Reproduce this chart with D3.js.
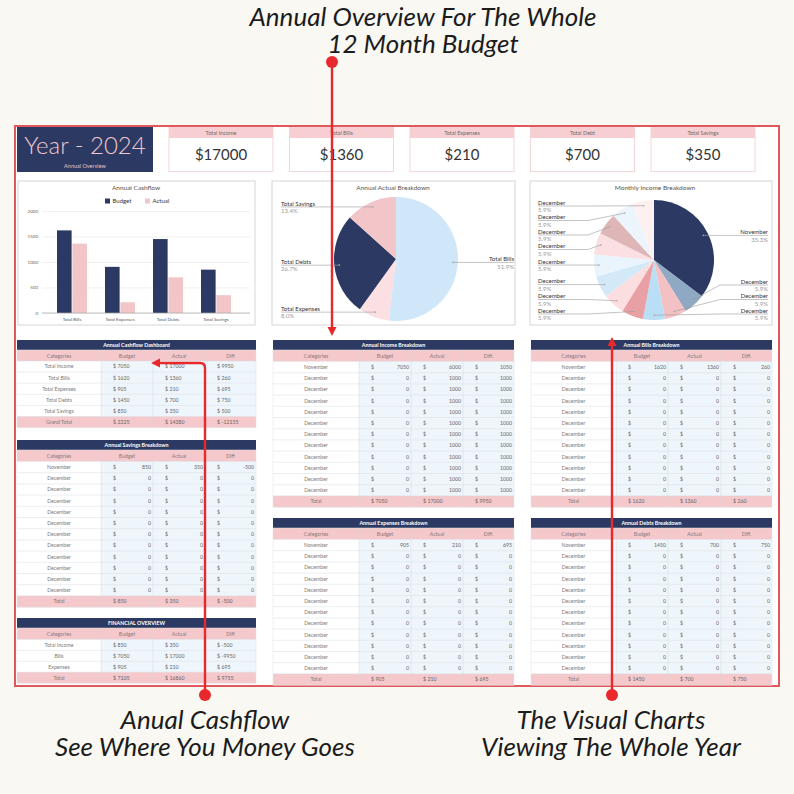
<!DOCTYPE html>
<html lang="en">
<head>
<meta charset="UTF-8">
<title>Year 2024 - Annual Overview</title>
<script src="https://d3js.org/d3.v7.min.js"></script>
<style>
    body { margin: 0; background: #f9f8f3; }
    svg text { font-family: Lato, "Noto Sans", sans-serif; }
    .note { font-style: italic; font-size: 26px; fill: #1c1c1c; }
</style>
</head>
<body>
<svg id="chart" width="794" height="794"></svg>
<script>
// ---- data ----
const kpiLabels = ["Total Income", "Total Bills", "Total Expenses", "Total Debt", "Total Savings"];
const kpiValues = [17000, 1360, 210, 700, 350];

const cashCategories = ["Total Bills", "Total Expenses", "Total Debts", "Total Savings"];
const cashBudget = [1620, 905, 1450, 850];
const cashActual = [1360, 210, 700, 350];
const yTicks = [0, 500, 1000, 1500, 2000];

const monthIncomeLabels = ["November", "December", "December", "December", "December", "December",
    "December", "December", "December", "December", "December", "December"];
const monthIncomeActual = [6000, 1000, 1000, 1000, 1000, 1000, 1000, 1000, 1000, 1000, 1000, 1000];

const months = ["November", "December", "December", "December", "December", "December",
    "December", "December", "December", "December", "December", "December"];

const dashCategories = ["Total Income", "Total Bills", "Total Expenses", "Total Debts", "Total Savings"];
const dashBudget = [7050, 1620, 905, 1450, 850];
const dashActual = [17000, 1360, 210, 700, 350];
const dashDiff = [9950, 260, 695, 750, 500];
const dashTotal = [2225, 14380, -12155];

const savingsBudget = [850, 0, 0, 0, 0, 0, 0, 0, 0, 0, 0, 0];
const savingsActual = [350, 0, 0, 0, 0, 0, 0, 0, 0, 0, 0, 0];
const savingsDiff = [-500, 0, 0, 0, 0, 0, 0, 0, 0, 0, 0, 0];
const savingsTotal = [850, 350, -500];

const finCategories = ["Total Income", "Bills", "Expenses"];
const finBudget = [850, 7050, 905];
const finActual = [350, 17000, 210];
const finDiff = [-500, -9950, 695];
const finTotal = [7105, 16860, 9755];

const incomeBudget = [7050, 0, 0, 0, 0, 0, 0, 0, 0, 0, 0, 0];
const incomeActual = [6000, 1000, 1000, 1000, 1000, 1000, 1000, 1000, 1000, 1000, 1000, 1000];
const incomeDiff = [1050, 1000, 1000, 1000, 1000, 1000, 1000, 1000, 1000, 1000, 1000, 1000];
const incomeTotal = [7050, 17000, 9950];

const expensesBudget = [905, 0, 0, 0, 0, 0, 0, 0, 0, 0, 0, 0];
const expensesActual = [210, 0, 0, 0, 0, 0, 0, 0, 0, 0, 0, 0];
const expensesDiff = [695, 0, 0, 0, 0, 0, 0, 0, 0, 0, 0, 0];
const expensesTotal = [905, 210, 695];

const billsBudget = [1620, 0, 0, 0, 0, 0, 0, 0, 0, 0, 0, 0];
const billsActual = [1360, 0, 0, 0, 0, 0, 0, 0, 0, 0, 0, 0];
const billsDiff = [260, 0, 0, 0, 0, 0, 0, 0, 0, 0, 0, 0];
const billsTotal = [1620, 1360, 260];

const debtsBudget = [1450, 0, 0, 0, 0, 0, 0, 0, 0, 0, 0, 0];
const debtsActual = [700, 0, 0, 0, 0, 0, 0, 0, 0, 0, 0, 0];
const debtsDiff = [750, 0, 0, 0, 0, 0, 0, 0, 0, 0, 0, 0];
const debtsTotal = [1450, 700, 750];

// ---- colours ----
const navy = "#2c3a63", pink = "#f5c8cb", cellBlue = "#eef6fc", red = "#e8282c";
const actualColors = ["#cfe7f8", "#fcdfe2", "#2c3a63", "#f2c6c8"];
const incomeColors = ["#2c3a63", "#8fa8c3", "#f3c0c3", "#b9def6", "#e8a0a4", "#fcdde0",
    "#d4e9f8", "#e9f4fc", "#fbdfe2", "#deb6b7", "#ecf5fb", "#fdf0f1"];

const svg = d3.select("#chart");

// outer frame
svg.append("rect").attr("x", 15).attr("y", 126).attr("width", 764).attr("height", 560)
    .attr("fill", "#fff").attr("stroke", "#e0575c").attr("stroke-width", 2);

// year box
svg.append("rect").attr("x", 17).attr("y", 127).attr("width", 136).attr("height", 45).attr("fill", navy);
svg.append("text").attr("x", 85).attr("y", 154).attr("text-anchor", "middle")
    .attr("font-size", 24).attr("font-weight", 300).attr("fill", "#f2c7cb").text("Year - 2024");
svg.append("text").attr("x", 85).attr("y", 168).attr("text-anchor", "middle")
    .attr("font-size", 5.5).attr("fill", "#e6c2c8").text("Annual Overview");

// kpi cards
const cardX = d3.scaleBand().domain(kpiLabels).range([169, 755]).paddingInner(0.137).paddingOuter(0);
kpiLabels.forEach((k, i) => {
    const x = cardX(k), w = cardX.bandwidth();
    svg.append("rect").attr("x", x).attr("y", 127.5).attr("width", w).attr("height", 44)
        .attr("fill", "#fff").attr("stroke", "#f4d5d8");
    svg.append("rect").attr("x", x).attr("y", 127.5).attr("width", w).attr("height", 10.5).attr("fill", "#f7cfd2");
    svg.append("text").attr("x", x + w / 2).attr("y", 134.5).attr("text-anchor", "middle")
        .attr("font-size", 5.5).attr("fill", "#6b6b6b").text(k);
    svg.append("text").attr("x", x + w / 2).attr("y", 160).attr("text-anchor", "middle")
        .attr("font-size", 15).attr("fill", "#333").text("$" + kpiValues[i]);
});

// chart panels
[[18, 237], [272, 243], [530, 242]].forEach(p => {
    svg.append("rect").attr("x", p[0]).attr("y", 181).attr("width", p[1]).attr("height", 144)
        .attr("fill", "#fff").attr("stroke", "#d6d6d6");
});

// ---- bar chart ----
const bar = svg.append("g");
bar.append("text").attr("x", 136).attr("y", 190).attr("text-anchor", "middle")
    .attr("font-size", 6.5).attr("fill", "#555").text("Annual Cashflow");
[["Budget", navy, 105], ["Actual", "#f2c6c8", 145]].forEach(l => {
    bar.append("rect").attr("x", l[2]).attr("y", 198.5).attr("width", 5).attr("height", 5).attr("fill", l[1]);
    bar.append("text").attr("x", l[2] + 7.5).attr("y", 203.3).attr("font-size", 6).attr("fill", "#333").text(l[0]);
});

const x0 = d3.scaleBand().domain(cashCategories).range([48, 240]).paddingInner(0.375).paddingOuter(0.1875);
const x1 = d3.scaleBand().domain(["Budget", "Actual"]).range([0, x0.bandwidth()]).paddingInner(0.05);
const y = d3.scaleLinear().domain([0, 2000]).range([313, 211]);

const yAxis = bar.append("g").attr("transform", "translate(42,0)")
    .call(d3.axisLeft(y).tickValues(yTicks).tickFormat(d3.format("d")).tickSize(-208).tickPadding(4));
yAxis.select(".domain").remove();
yAxis.selectAll(".tick line").attr("stroke", "#e6e6e6").attr("stroke-width", 0.6);
yAxis.selectAll(".tick text").attr("font-size", 4.5).attr("fill", "#666");

const groups = bar.selectAll("g.cat")
    .data(cashCategories.map((c, i) => ({ c, vals: [["Budget", cashBudget[i]], ["Actual", cashActual[i]]] })))
    .join("g").attr("class", "cat").attr("transform", d => `translate(${x0(d.c)},0)`);
groups.selectAll("rect").data(d => d.vals).join("rect")
    .attr("x", d => x1(d[0])).attr("width", x1.bandwidth())
    .attr("y", d => y(d[1])).attr("height", d => y(0) - y(d[1]))
    .attr("fill", d => d[0] === "Budget" ? navy : "#f2c6c8");

bar.append("line").attr("x1", 42).attr("x2", 250).attr("y1", y(0)).attr("y2", y(0))
    .attr("stroke", "#aaa").attr("stroke-width", 0.7);
const xAxis = bar.append("g").attr("transform", `translate(0,${y(0)})`)
    .call(d3.axisBottom(x0).tickSize(0).tickPadding(4.5));
xAxis.select(".domain").remove();
xAxis.selectAll("text").attr("font-size", 4.5).attr("fill", "#555");

// ---- pies ----
function layoutLabels(items, top, bottom, gap) {
    items.sort((a, b) => a.py - b.py);
    let prev = -Infinity;
    items.forEach(d => { d.ly = Math.max(d.py, top, prev + gap); prev = d.ly; });
    let next = Infinity;
    for (let i = items.length - 1; i >= 0; i--) {
        items[i].ly = Math.min(items[i].ly, bottom, next - gap);
        next = items[i].ly;
    }
}

function drawPie(opt) {
    const g = svg.append("g");
    g.append("text").attr("x", opt.titleX).attr("y", 190).attr("text-anchor", "middle")
        .attr("font-size", 6.5).attr("fill", "#555").text(opt.title);
    const total = d3.sum(opt.values);
    const arcs = d3.pie().sort(null).value(d => d)(opt.values);
    const arc = d3.arc().innerRadius(0).outerRadius(opt.r);
    g.append("g").attr("transform", `translate(${opt.cx},${opt.cy})`)
        .selectAll("path").data(arcs).join("path")
        .attr("d", arc).attr("fill", (d, i) => opt.colors[i]);

    const items = arcs.map((a, i) => {
        const m = (a.startAngle + a.endAngle) / 2;
        return {
            name: opt.labels[i],
            pct: (opt.values[i] / total * 100).toFixed(1) + "%",
            px: opt.cx + Math.sin(m) * opt.r * 0.92,
            py: opt.cy - Math.cos(m) * opt.r * 0.92,
            right: m <= Math.PI + 1e-6
        };
    });
    const left = items.filter(d => !d.right), right = items.filter(d => d.right);
    layoutLabels(left, 206, 314, 14.5);
    layoutLabels(right, 206, 314, 14.5);
    items.forEach(d => {
        const lx = d.right ? opt.rightX : opt.leftX;
        const knee = d.right ? opt.cx + opt.r + 6 : opt.cx - opt.r - 6;
        g.append("polyline")
            .attr("points", [[lx, d.ly], [knee, d.ly], [d.px, d.py]].map(p => p.join(",")).join(" "))
            .attr("fill", "none").attr("stroke", "#9a9a9a").attr("stroke-width", 0.6);
        g.append("circle").attr("cx", d.px).attr("cy", d.py).attr("r", 0.8).attr("fill", "#aaa");
        const anchor = d.right ? "end" : "start";
        g.append("text").attr("x", lx).attr("y", d.ly - 1.2).attr("text-anchor", anchor)
            .attr("font-size", 6).attr("fill", "#333").text(d.name);
        g.append("text").attr("x", lx).attr("y", d.ly + 6.3).attr("text-anchor", anchor)
            .attr("font-size", 6).attr("fill", "#9a9a9a").text(d.pct);
    });
}

drawPie({ title: "Annual Actual Breakdown", titleX: 393, cx: 396, cy: 259, r: 62,
    values: cashActual, labels: cashCategories, colors: actualColors, leftX: 281, rightX: 514 });
drawPie({ title: "Monthly Income Breakdown", titleX: 655, cx: 654, cy: 260, r: 60,
    values: monthIncomeActual, labels: monthIncomeLabels, colors: incomeColors, leftX: 538, rightX: 768 });

// ---- tables ----
function drawTable(x0, y0, colW, title, rows, total, opt) {
    const g = svg.append("g");
    const W = d3.sum(colW);
    const xs = [x0];
    colW.forEach((w, i) => xs.push(xs[i] + w));
    const titleH = 10, headH = opt.headH, rowH = opt.rowH;
    g.append("rect").attr("x", x0).attr("y", y0).attr("width", W).attr("height", titleH).attr("fill", navy);
    g.append("text").attr("x", x0 + W / 2).attr("y", y0 + 7).attr("text-anchor", "middle")
        .attr("fill", "#fff").attr("font-size", 5.3).attr("font-weight", 700).text(title);
    const hy = y0 + titleH;
    g.append("rect").attr("x", x0).attr("y", hy).attr("width", W).attr("height", headH).attr("fill", pink);
    ["Categories", "Budget", "Actual", opt.diffLabel].forEach((h, i) => {
        g.append("text").attr("x", xs[i] + colW[i] / 2).attr("y", hy + headH / 2 + 2)
            .attr("text-anchor", "middle").attr("font-size", 5.2).attr("fill", "#8a7a7c").text(h);
    });
    const ry = hy + headH;
    const all = rows.concat([total]);
    all.forEach((r, j) => {
        const yy = ry + j * rowH, isTotal = j === rows.length;
        g.append("rect").attr("x", x0).attr("y", yy).attr("width", colW[0]).attr("height", rowH)
            .attr("fill", isTotal ? pink : "#fff");
        g.append("rect").attr("x", xs[1]).attr("y", yy).attr("width", W - colW[0]).attr("height", rowH)
            .attr("fill", isTotal ? pink : cellBlue);
        const ty = yy + rowH / 2 + 1.9;
        g.append("text").attr("x", x0 + colW[0] / 2).attr("y", ty).attr("text-anchor", "middle")
            .attr("font-size", 5.2).attr("fill", "#7a7a7a").text(r[0]);
        for (let c = 1; c <= 3; c++) {
            const split = opt.split && !isTotal;
            g.append("text").attr("x", xs[c] + 12).attr("y", ty)
                .attr("font-size", 5.2).attr("fill", "#666").text("$");
            g.append("text").attr("x", split ? xs[c + 1] - 2 : xs[c] + 16.5).attr("y", ty)
                .attr("text-anchor", split ? "end" : "start")
                .attr("font-size", 5.2).attr("fill", "#666").text(r[c]);
        }
        g.append("line").attr("x1", x0).attr("x2", x0 + W).attr("y1", yy).attr("y2", yy)
            .attr("stroke", "#d9dde2").attr("stroke-width", 0.5);
    });
    const yEnd = ry + all.length * rowH;
    g.append("line").attr("x1", x0).attr("x2", x0 + W).attr("y1", yEnd).attr("y2", yEnd)
        .attr("stroke", "#e6d2d4").attr("stroke-width", 0.5);
    xs.slice(1, 4).forEach(x => {
        g.append("line").attr("x1", x).attr("x2", x).attr("y1", hy).attr("y2", yEnd)
            .attr("stroke", "#d3d9e0").attr("stroke-width", 0.5);
    });
    g.append("rect").attr("x", x0).attr("y", hy).attr("width", W).attr("height", yEnd - hy)
        .attr("fill", "none").attr("stroke", "#e3e3e3").attr("stroke-width", 0.5);
}

const zipRows = (labels, b, a, d) => labels.map((l, i) => [l, b[i], a[i], d[i]]);
const leftCols = [84, 52, 52, 51], midCols = [86, 52, 52, 51], rightCols = [85, 52, 53, 51];

drawTable(17, 340, leftCols, "Annual Cashflow Dashboard",
    zipRows(dashCategories, dashBudget, dashActual, dashDiff), ["Grand Total", ...dashTotal],
    { headH: 11, rowH: 11.1, split: false, diffLabel: "Diff" });
drawTable(17, 440, leftCols, "Annual Savings Breakdown",
    zipRows(months, savingsBudget, savingsActual, savingsDiff), ["Total", ...savingsTotal],
    { headH: 11.5, rowH: 11.2, split: true, diffLabel: "Diff" });
drawTable(17, 618, leftCols, "FINANCIAL OVERVIEW",
    zipRows(finCategories, finBudget, finActual, finDiff), ["Total", ...finTotal],
    { headH: 11.5, rowH: 10.9, split: false, diffLabel: "Diff" });
drawTable(273, 340, midCols, "Annual Income Breakdown",
    zipRows(months, incomeBudget, incomeActual, incomeDiff), ["Total", ...incomeTotal],
    { headH: 11.5, rowH: 11.2, split: true, diffLabel: "Diff." });
drawTable(273, 518, midCols, "Annual Expenses Breakdown",
    zipRows(months, expensesBudget, expensesActual, expensesDiff), ["Total", ...expensesTotal],
    { headH: 11.5, rowH: 11.2, split: true, diffLabel: "Diff." });
drawTable(531, 340, rightCols, "Annual Bills Breakdown",
    zipRows(months, billsBudget, billsActual, billsDiff), ["Total", ...billsTotal],
    { headH: 11.5, rowH: 11.2, split: true, diffLabel: "Diff." });
drawTable(531, 518, rightCols, "Annual Debts Breakdown",
    zipRows(months, debtsBudget, debtsActual, debtsDiff), ["Total", ...debtsTotal],
    { headH: 11.5, rowH: 11.2, split: true, diffLabel: "Diff." });

// ---- annotations ----
const ann = svg.append("g");
ann.append("text").attr("class", "note").attr("x", 423).attr("y", 26).attr("text-anchor", "middle")
    .text("Annual Overview For The Whole");
ann.append("text").attr("class", "note").attr("x", 423).attr("y", 53).attr("text-anchor", "middle")
    .text("12 Month Budget");
ann.append("text").attr("class", "note").attr("x", 205).attr("y", 729).attr("text-anchor", "middle")
    .text("Anual Cashflow");
ann.append("text").attr("class", "note").attr("x", 205).attr("y", 756).attr("text-anchor", "middle")
    .text("See Where You Money Goes");
ann.append("text").attr("class", "note").attr("x", 611).attr("y", 729).attr("text-anchor", "middle")
    .text("The Visual Charts");
ann.append("text").attr("class", "note").attr("x", 611).attr("y", 756).attr("text-anchor", "middle")
    .text("Viewing The Whole Year");

// arrows
ann.append("path").attr("d", "M332,62 V328").attr("stroke", red).attr("stroke-width", 2.4).attr("fill", "none");
ann.append("path").attr("d", "M327.5,327 L336.5,327 L332,336 Z").attr("fill", red);
ann.append("circle").attr("cx", 332).attr("cy", 62).attr("r", 6).attr("fill", red);

ann.append("path").attr("d", "M205,695 V368 Q205,363 200,363 H159").attr("stroke", red)
    .attr("stroke-width", 2.4).attr("fill", "none");
ann.append("path").attr("d", "M160,358.5 L160,367.5 L151,363 Z").attr("fill", red);
ann.append("circle").attr("cx", 205).attr("cy", 695).attr("r", 6).attr("fill", red);

ann.append("path").attr("d", "M612,695 V345").attr("stroke", red).attr("stroke-width", 2.4).attr("fill", "none");
ann.append("path").attr("d", "M607.5,346 L616.5,346 L612,337 Z").attr("fill", red);
ann.append("circle").attr("cx", 612).attr("cy", 695).attr("r", 6).attr("fill", red);
</script>
</body>
</html>
